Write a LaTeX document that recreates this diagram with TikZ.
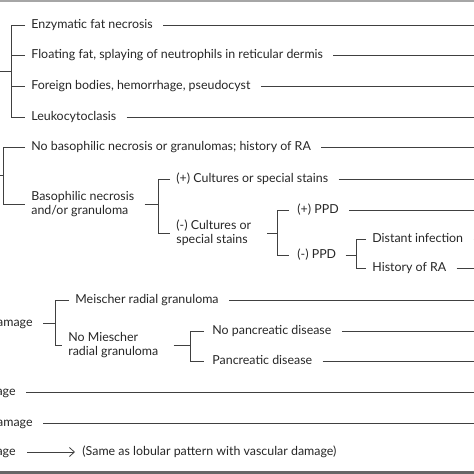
\documentclass[tikz,border=0pt]{standalone}
\usepackage{fontspec}
\setmainfont{Lato}
\usetikzlibrary{arrows.meta, positioning}

\begin{document}
\begin{tikzpicture}[x=1pt, y=-1pt, line width=0.8pt, draw=black!75, text=black!85,
    entry/.style={anchor=west, inner sep=0pt, text height=8.5pt, text depth=2.5pt,
        font=\fontsize{12.4}{14.5}\selectfont},
    entry2/.style={anchor=west, inner sep=0pt, align=left,
        font=\fontsize{12.4}{14.5}\selectfont},
    cut/.style={entry, anchor=east}]
    \useasboundingbox (0,0) rectangle (474,474);
    \clip (0,0) rectangle (474,474);
    \fill[black!35] (0,0) rectangle (474,2);
    \fill[black!60] (0,471) rectangle (474,474);
    \coordinate (rim) at (474,0);

    % first group
    \coordinate (g1) at (0,71);
    \coordinate (k1) at (11,0);
    \node[entry] (a1) at (31,25) {Enzymatic fat necrosis};
    \node[entry] (a2) at (31,55) {Floating fat, splaying of neutrophils in reticular dermis};
    \node[entry] (a3) at (31,86) {Foreign bodies, hemorrhage, pseudocyst};
    \node[entry] (a4) at (31,117) {Leukocytoclasis};

    % second group
    \coordinate (g2) at (0,175);
    \coordinate (k2) at (3,0);
    \node[entry] (b1) at (31,147) {No basophilic necrosis or granulomas; history of RA};
    \node[entry2] (b2) at (31,204) {Basophilic necrosis\\and/or granuloma};
    \coordinate (k3) at (158,0);
    \node[entry] (c1) at (176,179) {(+) Cultures or special stains};
    \node[entry2] (c2) at (176,233) {(-) Cultures or\\special stains};
    \coordinate (k4) at (277,0);
    \node[entry] (d1) at (297,210) {(+) PPD};
    \node[entry] (d2) at (297,255) {(-) PPD};
    \coordinate (k5) at (356,0);
    \node[entry] (e1) at (372,239) {Distant infection};
    \node[entry] (e2) at (372,268) {History of RA};

    % third group
    \node[cut] (r3) at (33,323) {damage};
    \coordinate (k6) at (55,0);
    \node[entry] (m1) at (75,300) {Meischer radial granuloma};
    \node[entry2] (m2) at (68,345) {No Miescher\\radial granuloma};
    \coordinate (k7) at (190,0);
    \node[entry] (p1) at (212,331) {No pancreatic disease};
    \node[entry] (p2) at (212,361) {Pancreatic disease};

    % last rows
    \node[cut] (r4) at (16,392) {damage};
    \node[cut] (r5) at (33,423) {damage};
    \node[cut] (r6) at (16,452) {damage};
    \node[entry] (s6) at (82,452) {(Same as lobular pattern with vascular damage)};

    % brackets
    \draw (g1) -- (g1 -| k1);
    \draw ([xshift=-6pt]a1.west) -- (a1.west -| k1) -- (a4.west -| k1) -- ([xshift=-6pt]a4.west);
    \foreach \n in {a2,a3} \draw (\n.west -| k1) -- ([xshift=-6pt]\n.west);
    \draw (g2) -- (g2 -| k2);
    \draw ([xshift=-6pt]b1.west) -- (b1.west -| k2) -- (b2.west -| k2) -- ([xshift=-6pt]b2.west);
    \draw ([xshift=10pt]b2.east) -- (b2.east -| k3);
    \draw ([xshift=-6pt]c1.west) -- (c1.west -| k3) -- (c2.west -| k3) -- ([xshift=-6pt]c2.west);
    \draw ([xshift=16pt]c2.east) -- (c2.east -| k4);
    \draw ([xshift=-8pt]d1.west) -- (d1.west -| k4) -- (d2.west -| k4) -- ([xshift=-8pt]d2.west);
    \draw ([xshift=9pt]d2.east) -- (d2.east -| k5);
    \draw ([xshift=-6pt]e1.west) -- (e1.west -| k5) -- (e2.west -| k5) -- ([xshift=-6pt]e2.west);
    \draw ([xshift=10pt]r3.east) -- (r3.east -| k6);
    \draw ([xshift=-6pt]m1.west) -- (m1.west -| k6) -- (m2.west -| k6) -- ([xshift=-6pt]m2.west);
    \draw ([xshift=15pt]m2.east) -- (m2.east -| k7);
    \draw ([xshift=-8pt]p1.west) -- (p1.west -| k7) -- (p2.west -| k7) -- ([xshift=-8pt]p2.west);

    % lines out to the right edge
    \foreach \n in {a1,a2,a3,a4,b1,c1,d1,e1,e2,m1,p1,p2,r4,r5}
        \draw ([xshift=10pt]\n.east) -- (\n.east -| rim);
    \draw[-{Straight Barb[length=5pt, width=9pt]}] ([xshift=11pt]r6.east) -- ([xshift=-7pt]s6.west);
\end{tikzpicture}
\end{document}
